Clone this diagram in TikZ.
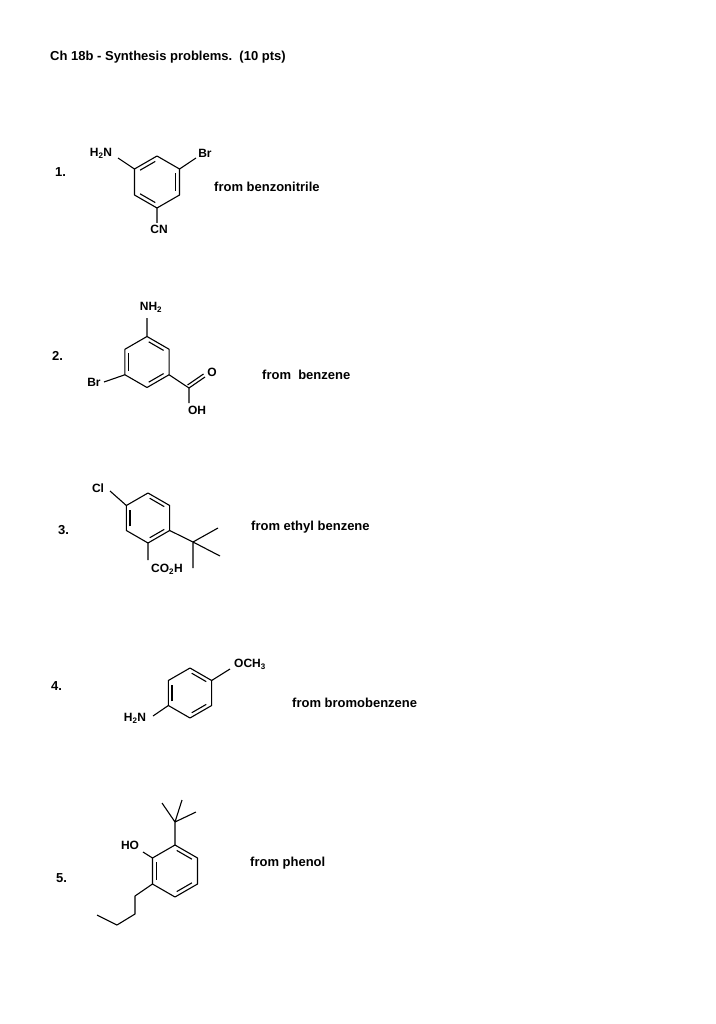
\documentclass[tikz,border=0pt]{standalone}
\usepackage{fontspec}
\setmainfont{Liberation Sans}
\usetikzlibrary{calc}
\newcommand{\benzring}[5]{% name cx cy r set(0 or 1)
  \foreach \k in {0,...,5}{\coordinate (#1v\k) at ($(#2,#3)+({30+60*\k}:#4)$);}
  \draw[bond] (#1v0)--(#1v1)--(#1v2)--(#1v3)--(#1v4)--(#1v5)--cycle;
  \foreach \k in {0,2,4}{
    \pgfmathtruncatemacro{\a}{mod(\k+#5,6)}\pgfmathtruncatemacro{\b}{mod(\k+#5+1,6)}
    \draw[bond,shorten >=2pt,shorten <=2pt] ($(#2,#3)!0.83!(#1v\a)$)--($(#2,#3)!0.83!(#1v\b)$);}
}
\newcommand{\sub}[1]{\textsubscript{#1}}
\begin{document}
\begin{tikzpicture}[x=1pt,y=-1pt,
  bond/.style={line width=1.1pt,line join=round},
  lbl/.style={font=\fontsize{12}{14}\selectfont\bfseries,inner sep=1pt},
  txt/.style={font=\fontsize{13}{15}\selectfont\bfseries,anchor=west,inner sep=0pt}]
\useasboundingbox[fill=white] (0,0) rectangle (715,1024);
\node[txt] (title) at (50,57) {Ch 18b - Synthesis problems.\ \ (10 pts)};
% 1
\node[txt] (n1) at (55,172) {1.};
\benzring{a}{157}{182}{26}{1}
\node[lbl] (a1) at (101,153) {H\sub{2}N};
\node[lbl] (a2) at (205,153) {Br};
\node[lbl] (a3) at (159,229) {CN};
\draw[bond] (av3)--(118,158) (av5)--(196,158) (av1)--(157,223);
\node[txt] (f1) at (214,187) {from benzonitrile};
% 2
\node[txt] (n2) at (52,356) {2.};
\benzring{b}{147}{362}{25.5}{0}
\node[lbl] (b1) at (151,307) {NH\sub{2}};
\node[lbl] (b2) at (94,382) {Br};
\coordinate (bc) at (189,388);
\node[lbl] (b3) at (212,372) {O};
\node[lbl] (b4) at (197,410) {OH};
\draw[bond] (bv4)--(147,318) (bv2)--(104,382) (bv0)--(bc) (bc)--(189,403);
\draw[bond] (bc)--(205,377) ($(bc)+(-1.5,-3)$)--($(205,377)+(-1.5,-3)$);
\node[txt] (f2) at (262,375) {from\ \ benzene};
% 3
\node[txt] (n3) at (58,530) {3.};
\benzring{c}{148}{518}{25}{0}
\node[lbl] (c1) at (98,488) {Cl};
\node[lbl] (c2) at (167,569) {CO\sub{2}H};
\coordinate (cq) at (193,542);
\draw[bond] (cv3)--(110,491) (cv0)--(cq) (cq)--(218,528) (cq)--(220,556) (cq)--(193,568) (cv1)--(148,560);
\node[txt] (f3) at (251,527) {from ethyl benzene};
% 4
\node[txt] (n4) at (51,686) {4.};
\benzring{d}{190}{693}{25}{0}
\node[lbl] (d1) at (250,664) {OCH\sub{3}};
\node[lbl] (d2) at (135,718) {H\sub{2}N};
\draw[bond] (dv5)--(230,669) (dv2)--(153,716);
\node[txt] (f4) at (292,703) {from bromobenzene};
% 5
\node[txt] (n5) at (56,878) {5.};
\benzring{e}{175}{871}{26}{0}
\node[lbl] (e1) at (130,845) {HO};
\coordinate (eq) at (175,822);
\draw[bond] (ev3)--(143,852) (ev4)--(eq) (eq)--(162,803) (eq)--(182,800) (eq)--(196,812);
\draw[bond] (ev2)--(135,896)--(135,914)--(117,925)--(97,915);
\node[txt] (f5) at (250,863) {from phenol};
\end{tikzpicture}
\end{document}
